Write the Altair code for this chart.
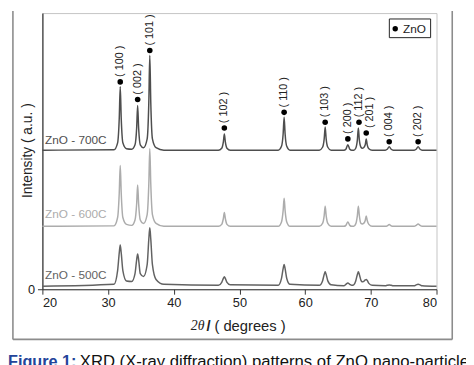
import altair as alt
import pandas as pd

# ---- data ----
two_theta = [20.0, 30.9, 31.45, 31.7, 31.85, 32.0, 32.25, 32.8,
             33.6, 34.1, 34.35, 34.5, 34.65, 34.9, 35.4,
             35.95, 36.2, 36.35, 36.5, 36.75, 37.3, 38.5,
             46.8, 47.3, 47.55, 47.7, 47.85, 48.1, 48.6,
             55.9, 56.4, 56.65, 56.8, 56.95, 57.2, 57.7,
             62.15, 62.65, 62.9, 63.05, 63.2, 63.45, 63.95,
             65.9, 66.2, 66.5, 66.8, 67.1,
             67.4, 67.7, 67.95, 68.1, 68.25, 68.5, 68.7,
             68.9, 69.15, 69.3, 69.45, 69.7, 70.2,
             72.2, 72.5, 72.8, 73.1, 73.4,
             76.6, 76.9, 77.2, 77.5, 77.8, 80.0]

i_700 = [141.5, 142, 149, 174, 206, 174, 149, 143,
         142.5, 147, 164, 187, 164, 147, 144,
         153, 190, 238, 190, 153, 144, 141.5,
         141.5, 143.5, 150, 158, 150, 143.5, 141.5,
         141.5, 145.5, 158, 175, 158, 145.5, 141.5,
         141.5, 144.5, 153, 165, 153, 144.5, 141.5,
         141.5, 142.5, 147, 142.5, 141.5,
         141.5, 143.5, 152, 164, 152, 144.5, 143.5,
         144, 147, 153, 147, 143, 141.5,
         141.5, 142.5, 145, 142.5, 141.5,
         141.5, 142.5, 145, 142.5, 141.5, 141.5]

i_600 = [64, 64.5, 73, 98, 126, 98, 73, 66,
         65, 70.5, 87, 106, 87, 70.5, 67,
         76, 107, 143, 107, 76, 67, 64,
         64, 66, 72, 78, 72, 66, 64,
         64, 68.5, 80, 92.5, 80, 68.5, 64,
         64, 67, 75, 84.5, 75, 67, 64,
         64, 65, 68.5, 65, 64,
         64, 66.5, 75, 84.5, 75, 67, 66.5,
         67, 70, 74.5, 70, 66, 64,
         64, 64.5, 66, 64.5, 64,
         64, 65, 66.5, 65, 64, 64]

i_500 = [3, 5, 19, 37, 45, 37, 19, 8.5,
         8, 16, 30, 36, 30, 16, 13,
         25, 51, 62.7, 51, 25, 10, 5,
         4, 7, 11, 12.7, 11, 7, 4.5,
         4, 11, 21, 25.3, 21, 11, 5,
         4, 8.5, 15, 17.7, 15, 8.5, 4.5,
         3.5, 5, 6.3, 5, 4,
         4.5, 8.5, 15, 17.7, 15, 9, 7.5,
         8, 9.5, 10, 9, 6, 4,
         3.5, 4, 4.3, 4, 3.5,
         3.5, 4.5, 5, 4.5, 3.5, 3]

series_names = ["ZnO - 500C", "ZnO - 600C", "ZnO - 700C"]
series_colors = ["#626262", "#acacac", "#4e4e4e"]
series_label_y = [14, 76, 152]

hkl = ["( 100 )", "( 002 )", "( 101 )", "( 102 )", "( 110 )", "( 103 )",
       "( 200 )", "( 112 )", "( 201 )", "( 004 )", "( 202 )"]
dot_x = [31.85, 34.5, 36.35, 47.7, 56.8, 63.05, 66.5, 68.2, 69.3, 72.8, 77.2]
dot_y = [211, 193, 243, 164, 180, 170, 153, 170, 159, 150, 150]
hkl_label_x = [31.85, 34.5, 36.35, 47.7, 56.8, 63.05, 66.5, 68.2, 69.85, 72.8, 77.2]

x_ticks = [20, 30, 40, 50, 60, 70, 80]

# ---- tables ----
rows = []
for name, vals in zip(series_names, [i_500, i_600, i_700]):
    for t, v in zip(two_theta, vals):
        rows.append({"two_theta": t, "intensity": v, "series": name})
df = pd.DataFrame(rows)
df_lab = pd.DataFrame({"series": series_names, "y": series_label_y, "x": [20.4] * 3})
df_hkl = pd.DataFrame({"hkl": hkl, "x": dot_x, "y": dot_y, "lx": hkl_label_x})
one = pd.DataFrame({"a": [0]})

W, H = 401, 281
xs = alt.Scale(domain=[20, 80], nice=False, zero=False)
ys = alt.Scale(domain=[0, 281], nice=False)
cs = alt.Scale(domain=series_names, range=series_colors)

lines = alt.Chart(df).mark_line(interpolate="monotone", strokeWidth=1.5).encode(
    x=alt.X("two_theta:Q", scale=xs,
            axis=alt.Axis(values=x_ticks, title=None, grid=False, tickSize=5,
                          labelFontSize=13, labelPadding=3, domainColor="#333",
                          tickColor="#333", labelColor="#222", domainWidth=1.2)),
    y=alt.Y("intensity:Q", scale=ys,
            axis=alt.Axis(values=[0], title=None, grid=False, tickSize=5,
                          labelFontSize=13, labelPadding=3, domainColor="#333",
                          tickColor="#333", labelColor="#222", domainWidth=1.2)),
    color=alt.Color("series:N", scale=cs, legend=None),
    detail="series:N",
)

series_text = alt.Chart(df_lab).mark_text(align="left", baseline="middle", fontSize=12).encode(
    x=alt.X("x:Q", scale=xs), y=alt.Y("y:Q", scale=ys),
    text="series:N", color=alt.Color("series:N", scale=cs, legend=None))

dots = alt.Chart(df_hkl).mark_point(filled=True, shape="circle", size=32, color="black", opacity=1).encode(
    x=alt.X("x:Q", scale=xs), y=alt.Y("y:Q", scale=ys))

hkl_text = alt.Chart(df_hkl).mark_text(angle=270, align="left", baseline="middle",
                                       dx=5, fontSize=11, color="#222").encode(
    x=alt.X("lx:Q", scale=xs), y=alt.Y("y:Q", scale=ys), text="hkl:N")

# legend box
leg_box = alt.Chart(one).mark_rect(fill="white", stroke="#222", strokeWidth=1).encode(
    x=alt.value(353), x2=alt.value(395), y=alt.value(6), y2=alt.value(25))
leg_dot = alt.Chart(one).mark_point(filled=True, shape="circle", size=30, color="black", opacity=1).encode(
    x=alt.value(359), y=alt.value(16))
leg_txt = alt.Chart(one).mark_text(text="ZnO", align="left", baseline="middle", fontSize=12, color="#222").encode(
    x=alt.value(367), y=alt.value(16))

# axis titles
ytitle = alt.Chart(one).mark_text(text="Intensity ( a.u. )", angle=270, align="center",
                                  baseline="middle", fontSize=14, color="#222").encode(
    x=alt.value(-15), y=alt.value(140))
xt1 = alt.Chart(one).mark_text(text="2θ", align="left", baseline="middle", fontSize=14,
                               font="Liberation Serif", fontStyle="italic", color="#222").encode(
    x=alt.value(151), y=alt.value(318))
xt2 = alt.Chart(one).mark_text(text="/", align="left", baseline="middle", fontSize=15,
                               fontWeight="bold", color="#222").encode(
    x=alt.value(167), y=alt.value(318))
xt3 = alt.Chart(one).mark_text(text="( degrees )", align="left", baseline="middle", fontSize=15,
                               color="#222").encode(
    x=alt.value(175), y=alt.value(318))

# outer frame
fr_l = alt.Chart(one).mark_rule(color="#8c8c8c", strokeWidth=1.6).encode(
    x=alt.value(-30), y=alt.value(-2), y2=alt.value(332))
fr_r = alt.Chart(one).mark_rule(color="#8c8c8c", strokeWidth=1.6).encode(
    x=alt.value(417), y=alt.value(-2), y2=alt.value(332))
fr_b = alt.Chart(one).mark_rule(color="#8c8c8c", strokeWidth=1.6).encode(
    x=alt.value(-30), x2=alt.value(417), y=alt.value(332))

# caption
cap1 = alt.Chart(one).mark_text(text="Figure 1:", align="left", baseline="alphabetic",
                                fontSize=16.5, fontWeight="bold", color="#23449a").encode(
    x=alt.value(-35), y=alt.value(360))
cap2 = alt.Chart(one).mark_text(text="XRD (X-ray diffraction) patterns of ZnO nano-particles",
                                align="left", baseline="alphabetic", fontSize=17, color="#111").encode(
    x=alt.value(38), y=alt.value(360))

chart = alt.layer(
    fr_l, fr_r, fr_b, lines, series_text, dots, hkl_text, leg_box, leg_dot, leg_txt,
    ytitle, xt1, xt2, xt3, cap1, cap2
).properties(
    width=W, height=H,
    autosize=alt.AutoSizeParams(type="none"),
    padding={"left": 35, "top": 2, "right": 30, "bottom": 80},
).configure(font="Liberation Sans").configure_view(stroke="#c4c4c4", strokeWidth=1)

chart.save("out.html", embed_options={"renderer": "svg", "actions": False})
